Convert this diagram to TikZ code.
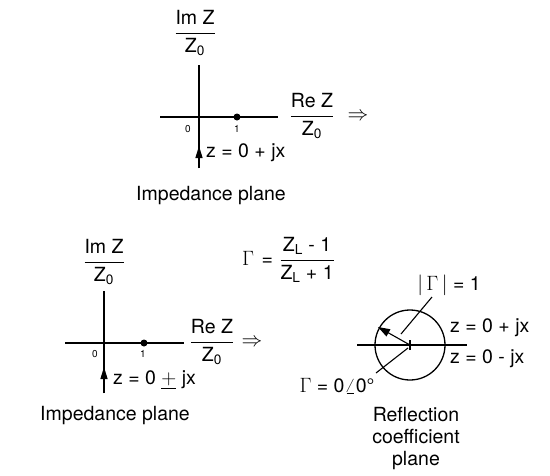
\documentclass[tikz,border=0pt]{standalone}
\usepackage{amsmath}
\usepackage{fontspec}
\setmainfont{TeX Gyre Heros}
\usetikzlibrary{arrows.meta, positioning}

\begin{document}
\begin{tikzpicture}[x=1pt, y=-1pt,
    every node/.style={font=\fontsize{19.5}{23}\selectfont, inner sep=0pt},
    axis/.style={line width=1.3pt},
    small/.style={font=\fontsize{10}{11}\selectfont},
    dot/.style={circle, fill, inner sep=0pt, minimum size=7pt},
    up/.style={axis, -{Triangle[length=12pt, width=7pt]}},
    pointer/.style={line width=1.1pt}
]
    \useasboundingbox (0,0) rectangle (550,475);

    % impedance plane (top)
    \coordinate (o1) at (199,117);
    \coordinate (xl1) at (160,117);
    \coordinate (xr1) at (278,117);
    \coordinate (yt1) at (199,65);
    \coordinate (yb1) at (199,168);
    \coordinate (tip1) at (199,146);
    \draw[axis] (xl1) -- (xr1);
    \draw[axis] (yb1) -- (yt1);
    \draw[up] (yb1) -- (tip1);
    \node[dot] (one1) at (237,117) {};
    \node[small] (l01) at (188,129) {0};
    \node[small] (l11) at (237,129) {1};
    \node (im1) at (195,33) {$\dfrac{\textrm{Im Z}}{\textrm{Z}_\textrm{0}}$};
    \node (re1) at (312,116) {$\dfrac{\textrm{Re Z}}{\textrm{Z}_\textrm{0}}$};
    \node (to1) at (358,117) {$\Rightarrow$};
    \node[anchor=west] (z1) at (206,153) {z = 0 + jx};
    \node (cap1) at (211,196) {Impedance plane};

    % impedance plane (bottom)
    \coordinate (o2) at (104,343);
    \coordinate (xl2) at (65,343);
    \coordinate (xr2) at (184,343);
    \coordinate (yt2) at (104,291);
    \coordinate (yb2) at (104,393);
    \coordinate (tip2) at (104,367);
    \draw[axis] (xl2) -- (xr2);
    \draw[axis] (yb2) -- (yt2);
    \draw[up] (yb2) -- (tip2);
    \node[dot] (one2) at (144,343) {};
    \node[small] (l02) at (95,354) {0};
    \node[small] (l12) at (143,354) {1};
    \node (im2) at (104,262) {$\dfrac{\textrm{Im Z}}{\textrm{Z}_\textrm{0}}$};
    \node (re2) at (212,342) {$\dfrac{\textrm{Re Z}}{\textrm{Z}_\textrm{0}}$};
    \node (to2) at (252,343) {$\Rightarrow$};
    \node[anchor=west] (z2) at (113,380) {z = 0 $\underline{+}$ jx};
    \node (cap2) at (115,416) {Impedance plane};

    % reflection coefficient plane
    \node[anchor=east] (gam) at (335,260)
        {$\Gamma$\hspace{2pt} = \hspace{1pt}$\dfrac{\textrm{Z}_\textrm{L}\textrm{ - 1}}{\textrm{Z}_\textrm{L}\textrm{ + 1}}$};
    \coordinate (c) at (410,345);
    \coordinate (hl) at (357,345);
    \coordinate (hr) at (467,345);
    \draw[axis] (c) circle (35);
    \draw[axis] (hl) -- (hr);
    \draw[axis] ([yshift=-5pt]c) -- ([yshift=5pt]c);
    \coordinate (gtip) at (378,327);
    \draw[pointer, -{Triangle[length=12pt, width=8pt]}] (c) -- (gtip);
    \node (mag) at (449,285) {$|\,\Gamma\,|$ = 1};
    \coordinate (mag1) at (432,297);
    \coordinate (mag2) at (401,334);
    \draw[pointer] (mag1) -- (mag2);
    \node[anchor=west] (zp) at (450,328) {z = 0 + jx};
    \node[anchor=west] (zm) at (450,359) {z = 0 - jx};
    \node (g0) at (337,386) {$\Gamma$ = 0$\angle$0°};
    \coordinate (g1) at (376,373);
    \coordinate (g2) at (408,348);
    \draw[pointer] (g1) -- (g2);
    \node[align=center, font=\fontsize{19.5}{22}\selectfont] (cap3) at (416,438)
        {Reflection\\coefficient\\plane};
\end{tikzpicture}
\end{document}
